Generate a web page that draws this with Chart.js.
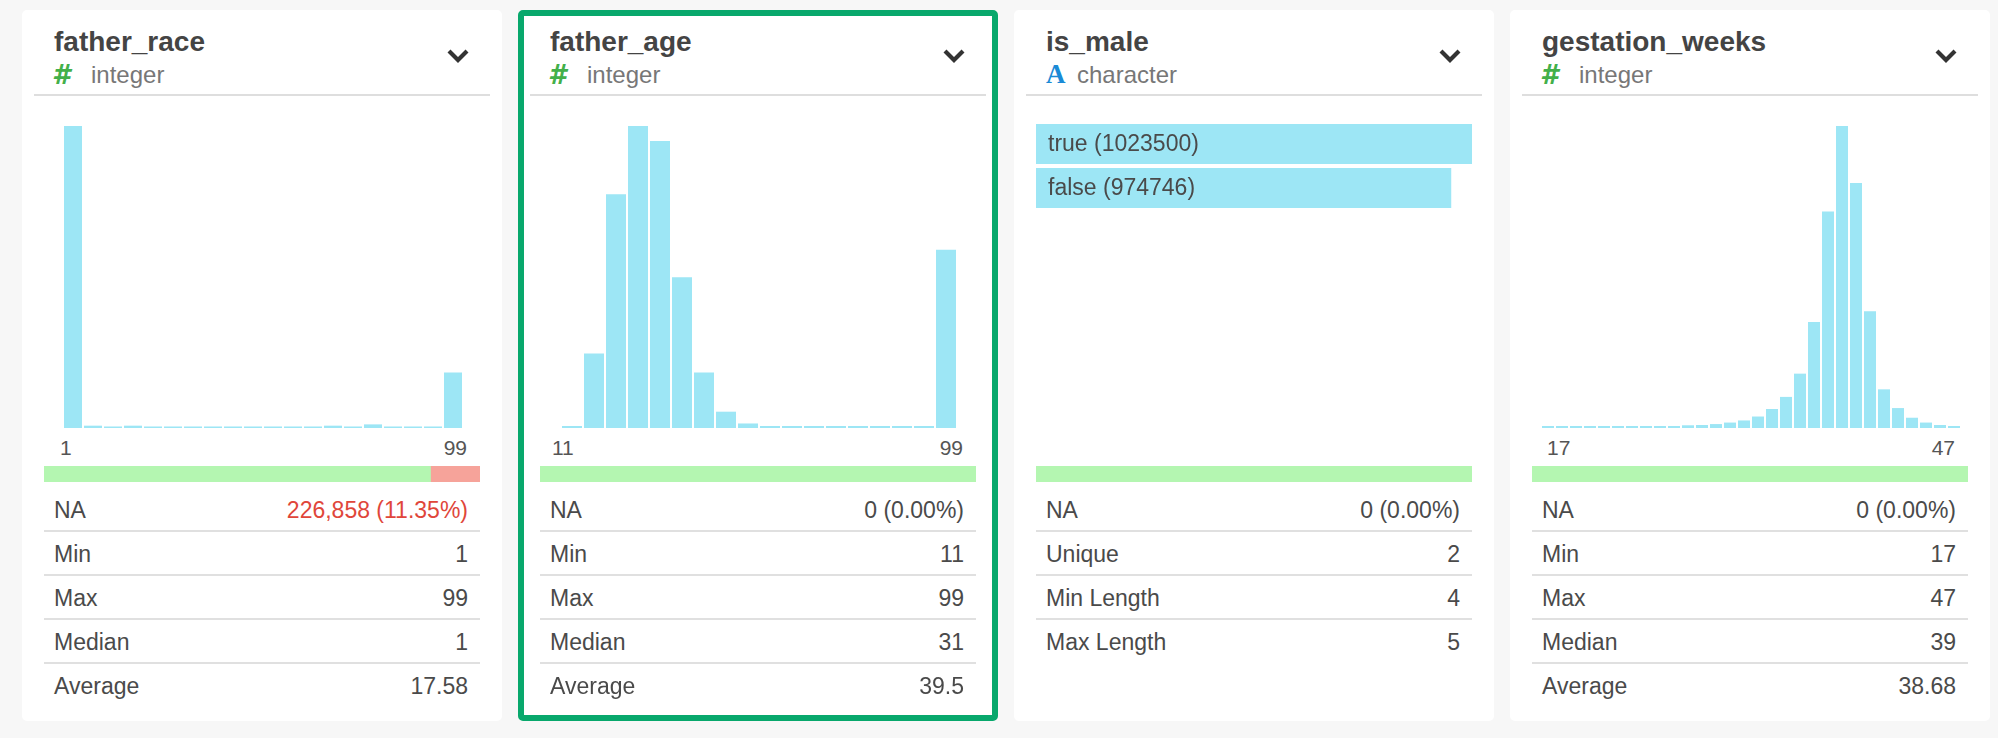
<!DOCTYPE html>
<html>
<head>
<meta charset="utf-8">
<script src="https://cdn.jsdelivr.net/npm/chart.js@4"></script>
<style>
  html, body { margin: 0; padding: 0; }
  body { width: 1998px; height: 738px; background: #f7f7f7; position: relative; overflow: hidden;
         font-family: "Helvetica Neue", Helvetica, "Liberation Sans", Arial, sans-serif; }
  .card { position: absolute; top: 10px; width: 480px; height: 711px; background: #fff; border-radius: 5px; }
  .card > * { position: absolute; }
  .title { left: 32px; top: 18px; font-size: 28px; font-weight: bold; color: #444; line-height: 28px; white-space: nowrap; }
  .icon { left: 30px; top: 52px; font-size: 26px; line-height: 26px; font-weight: bold; }
  .icon.num { color: #43b04a; font-family: "DejaVu Sans", sans-serif; font-style: italic; }
  .icon.chr { color: #1a8ad6; font-family: "Liberation Serif", "Times New Roman", serif; font-size: 27px; top: 51px; left: 32px; }
  .type { top: 53px; font-size: 24px; line-height: 24px; color: #777; }
  .divider { left: 12px; top: 84px; width: 456px; height: 2px; background: #dedede; }
  .chev { right: 32px; top: 38px; }
  .tick { top: 427px; font-size: 21px; line-height: 21px; color: #555; }
  .row { left: 22px; width: 436px; height: 44px; font-size: 23px; line-height: 23px; color: #4a4a4a; }
  .row .lab { position: absolute; left: 10px; top: 0; }
  .row .val { position: absolute; right: 12px; top: 0; }
  .row .val.red { color: #e0463a; }
  .sep { left: 22px; width: 436px; height: 2px; background: #e0e0e0; }
  .sel { left: 0; top: 0; width: 480px; height: 711px; box-sizing: border-box; border: 6px solid #08a86c; border-radius: 5px; }
</style>
</head>
<body>
<script>
// histogram bins (bin start) and bar heights, relative to the tallest bin = 100
const raceBins = ['1','6','11','16','21','25','30','35','40','45','50','55','60','65','70','74','79','84','89','94'];
const raceCounts = [100, 0.77, 0.5, 0.77, 0.5, 0.5, 0.5, 0.5, 0.5, 0.5, 0.5, 0.5, 0.5, 0.77, 0.5, 1.2, 0.5, 0.5, 0.5, 18.4];

const ageBins = ['11','16','21','26','31','36','41','46','51','55','60','65','70','75','80','85','90','94'];
const ageCounts = [0.66, 24.7, 77.4, 100, 95.0, 49.9, 18.4, 5.4, 1.5, 0.66, 0.66, 0.66, 0.66, 0.66, 0.66, 0.66, 0.66, 59.0];

const gestBins = ['17','18','19','20','21','22','23','24','25','26','27','28','29','30','31',
                  '32','33','34','35','36','37','38','39','40','41','42','43','44','45','46'];
const gestCounts = [0.66, 0.66, 0.66, 0.66, 0.66, 0.66, 0.66, 0.66, 0.66, 0.66, 0.9, 1.0, 1.3, 1.8, 2.5,
                    3.8, 6.3, 10.3, 18.0, 35.1, 71.7, 100, 81.1, 38.7, 12.8, 6.6, 3.4, 1.8, 1.0, 0.66];

const maleLabels = ['true', 'false'];
const maleCounts = [1023500, 974746];

const totalRows = 1998246;
const columns = ['father_race', 'father_age', 'is_male', 'gestation_weeks'];
const columnTypes = ['integer', 'integer', 'character', 'integer'];
const naCounts = [226858, 0, 0, 0];
const rangeTicks = [['1', '99'], ['11', '99'], null, ['17', '47']];

const raceStatLabels = ['NA', 'Min', 'Max', 'Median', 'Average'];
const raceStatValues = ['226,858 (11.35%)', '1', '99', '1', '17.58'];
const ageStatLabels = ['NA', 'Min', 'Max', 'Median', 'Average'];
const ageStatValues = ['0 (0.00%)', '11', '99', '31', '39.5'];
const maleStatLabels = ['NA', 'Unique', 'Min Length', 'Max Length'];
const maleStatValues = ['0 (0.00%)', '2', '4', '5'];
const gestStatLabels = ['NA', 'Min', 'Max', 'Median', 'Average'];
const gestStatValues = ['0 (0.00%)', '17', '47', '39', '38.68'];

const statLabels = [raceStatLabels, ageStatLabels, maleStatLabels, gestStatLabels];
const statValues = [raceStatValues, ageStatValues, maleStatValues, gestStatValues];

const barColor = '#9de6f5';
const cardLeft = [22, 518, 1014, 1510];
// histogram canvas position inside each card: [left, width]
const histBox = [[41, 400], [43, 396], null, [31, 420]];
const tickPos = [[38, 35], [34, 35], null, [37, 35]];

function el(tag, cls, parent, text) {
    const e = document.createElement(tag);
    if (cls) e.className = cls;
    if (text !== undefined) e.textContent = text;
    parent.appendChild(e);
    return e;
}

function histogram(canvas, labels, values, pct) {
    return new Chart(canvas, {
        type: 'bar',
        data: {
            labels: labels,
            datasets: [{
                data: values,
                backgroundColor: barColor,
                borderWidth: 0,
                categoryPercentage: 1,
                barPercentage: pct,
            }],
        },
        options: {
            responsive: false,
            animation: false,
            layout: { padding: 0 },
            plugins: { legend: { display: false }, tooltip: { enabled: false } },
            scales: {
                x: { display: false },
                y: { display: false, min: 0, max: 100 }
            }
        }
    });
}

function naBar(canvas, na) {
    return new Chart(canvas, {
        type: 'bar',
        data: {
            labels: ['rows'],
            datasets: [
                { data: [totalRows - na], backgroundColor: '#b4f6b1', borderWidth: 0, categoryPercentage: 1, barPercentage: 1 },
                { data: [na], backgroundColor: '#f6a39a', borderWidth: 0, categoryPercentage: 1, barPercentage: 1 },
            ],
        },
        options: {
            indexAxis: 'y',
            responsive: false,
            animation: false,
            layout: { padding: 0 },
            plugins: { legend: { display: false }, tooltip: { enabled: false } },
            scales: {
                x: { display: false, stacked: true, min: 0, max: totalRows },
                y: { display: false, stacked: true }
            }
        }
    });
}

const barText = {
    id: 'barText',
    afterDatasetsDraw(chart) {
        const ctx = chart.ctx;
        const meta = chart.getDatasetMeta(0);
        ctx.save();
        ctx.font = '23px "Helvetica Neue", Helvetica, "Liberation Sans", Arial, sans-serif';
        ctx.fillStyle = '#4a4a4a';
        ctx.textBaseline = 'middle';
        meta.data.forEach((bar, i) => {
            const txt = chart.data.labels[i] + ' (' + chart.data.datasets[0].data[i] + ')';
            ctx.fillText(txt, bar.base + 12, bar.y + 1);
        });
        ctx.restore();
    }
};

columns.forEach((name, c) => {
    const card = el('div', 'card', document.body);
    card.style.left = cardLeft[c] + 'px';

    el('div', 'title', card, name);
    if (columnTypes[c] === 'integer') {
        el('div', 'icon num', card, '#');
        el('div', 'type', card, 'integer').style.left = '69px';
    } else {
        el('div', 'icon chr', card, 'A');
        el('div', 'type', card, 'character').style.left = '63px';
    }
    el('div', 'divider', card);
    const chev = el('div', 'chev', card);
    chev.innerHTML = '<svg width="24" height="16" viewBox="0 0 24 16"><polyline points="3,3 12,12 21,3" fill="none" stroke="#333" stroke-width="4.2"/></svg>';

    if (histBox[c]) {
        const cv = el('canvas', null, card);
        cv.width = histBox[c][1];
        cv.height = 302;
        cv.style.left = histBox[c][0] + 'px';
        cv.style.top = '116px';
        const t1 = el('div', 'tick', card, rangeTicks[c][0]);
        t1.style.left = tickPos[c][0] + 'px';
        const t2 = el('div', 'tick', card, rangeTicks[c][1]);
        t2.style.right = tickPos[c][1] + 'px';
    } else {
        const cv = el('canvas', null, card);
        cv.width = 436;
        cv.height = 88;
        cv.style.left = '22px';
        cv.style.top = '112px';
        new Chart(cv, {
            type: 'bar',
            data: {
                labels: maleLabels,
                datasets: [{
                    data: maleCounts,
                    backgroundColor: barColor,
                    borderWidth: 0,
                    categoryPercentage: 1,
                    barPercentage: 40 / 44,
                }],
            },
            options: {
                indexAxis: 'y',
                responsive: false,
                animation: false,
                layout: { padding: 0 },
                plugins: { legend: { display: false }, tooltip: { enabled: false } },
                scales: {
                    x: { display: false, min: 0, max: Math.max(...maleCounts) },
                    y: { display: false }
                }
            },
            plugins: [barText]
        });
    }

    const nv = el('canvas', null, card);
    nv.width = 436;
    nv.height = 16;
    nv.style.left = '22px';
    nv.style.top = '456px';
    naBar(nv, naCounts[c]);

    statLabels[c].forEach((lab, r) => {
        const row = el('div', 'row', card);
        row.style.top = (489 + r * 44) + 'px';
        el('span', 'lab', row, lab);
        const v = el('span', 'val', row, statValues[c][r]);
        if (r === 0 && naCounts[c] > 0) v.classList.add('red');
        if (r > 0) {
            const s = el('div', 'sep', card);
            s.style.top = (520 + (r - 1) * 44) + 'px';
        }
    });

    if (c === 1) el('div', 'sel', card);

    if (c === 0) histogram(card.querySelector('canvas'), raceBins, raceCounts, 0.9);
    if (c === 1) histogram(card.querySelector('canvas'), ageBins, ageCounts, 20 / 22);
    if (c === 3) histogram(card.querySelector('canvas'), gestBins, gestCounts, 12 / 14);
});
</script>
</body>
</html>
